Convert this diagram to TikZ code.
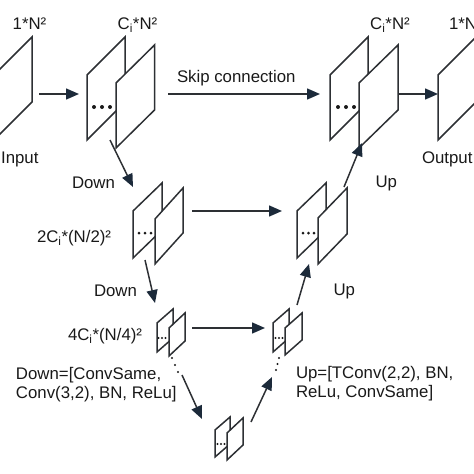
\documentclass[tikz,border=0pt]{standalone}
\usepackage{fontspec}
\setmainfont{Liberation Sans}
\usetikzlibrary{arrows.meta}
\definecolor{edgecol}{RGB}{45,48,52}
\definecolor{tipcol}{RGB}{28,42,58}
\definecolor{txtcol}{RGB}{25,25,25}
\tikzset{
  fplane/.style={draw=edgecol, line width=1.5pt, fill=white, line join=miter},
  conn/.style={draw=edgecol, line width=1.5pt, -{Triangle[length=13pt,width=11pt,color=tipcol]}},
  lbl/.style={inner sep=0pt, outer sep=0pt, text=txtcol, font=\fontsize{16.8}{19.5}\selectfont},
  dotmark/.style={fill=txtcol},
}
% x, y of top-left corner, width, slant, height
\newcommand\fmap[5]{\draw[fplane] (#1,#2) -- ++(#3,-#4) -- ++(0,#5) -- ++(-#3,#4) -- cycle;}
\newcommand\threedots[5]{% x1 x2 x3 y r
  \fill[dotmark] (#1,#4) circle[radius=#5pt] (#2,#4) circle[radius=#5pt] (#3,#4) circle[radius=#5pt];}
\begin{document}
\begin{tikzpicture}[x=1pt,y=-1pt]
\useasboundingbox (0,0) rectangle (474,474);
\clip (0,0) rectangle (474,474);

% ---- feature maps ----
% input and output
\fmap{-6}{75}{38}{38}{65}
\fmap{438}{75}{38}{38}{65}
% level 0 encoder
\fmap{87}{75}{38}{38}{65}
\threedots{94}{102}{110}{107}{2}
\fmap{116}{83}{38.5}{38}{65}
% level 0 decoder
\fmap{330}{75}{38}{38}{65}
\threedots{338}{346}{354}{107}{2}
\fmap{359}{83}{39}{38}{65}
% level 1 encoder
\fmap{133}{211}{29}{28}{47}
\threedots{139}{145}{151}{233}{1.5}
\fmap{155}{219}{28}{31}{45}
% level 1 decoder
\fmap{297}{211}{29}{28}{47}
\threedots{303}{308.5}{314}{233}{1.5}
\fmap{318}{218}{29}{30}{46}
% level 2 encoder
\fmap{157}{323}{16}{14}{29}
\threedots{158.5}{162}{165.5}{338}{1.1}
\fmap{169}{328}{16}{15}{28}
% level 2 decoder
\fmap{273}{323}{16}{14}{29}
\threedots{275.5}{279}{282.5}{338}{1.1}
\fmap{285}{328}{17}{15}{27}
% level 3 bottom
\fmap{215}{430}{15}{13}{27}
\threedots{217.5}{221}{224.5}{444}{1.1}
\fmap{227}{433}{16}{15}{27}

% ellipsis dots between levels
\fill[dotmark] (172,358) circle[radius=1.2pt] (175,365) circle[radius=1.2pt] (178,372) circle[radius=1.2pt];
\fill[dotmark] (279,358) circle[radius=1.2pt] (277.5,364) circle[radius=1.2pt] (276,370) circle[radius=1.2pt];

% ---- connector end points ----
\coordinate (inS) at (39,94);   \coordinate (inE) at (79,94);
\coordinate (skS) at (168,94);  \coordinate (skE) at (320,94);
\coordinate (ouS) at (399,94);  \coordinate (ouE) at (438,94);
\coordinate (d0S) at (110,140); \coordinate (d0E) at (133,187);
\coordinate (d1S) at (145,260); \coordinate (d1E) at (155,303);
\coordinate (s1S) at (192,211); \coordinate (s1E) at (282,211);
\coordinate (s2S) at (192,328); \coordinate (s2E) at (265,328);
\coordinate (d2S) at (182,375); \coordinate (d2E) at (202,419);
\coordinate (u3S) at (251,422); \coordinate (u3E) at (272,377);
\coordinate (u2S) at (297,305); \coordinate (u2E) at (309,264);
\coordinate (u1S) at (344,187); \coordinate (u1E) at (362,143);

\draw[conn] (inS) -- (inE);
\draw[conn] (skS) -- (skE);
\draw[conn] (ouS) -- (ouE);
\draw[conn] (d0S) -- (d0E);
\draw[conn] (d1S) -- (d1E);
\draw[conn] (s1S) -- (s1E);
\draw[conn] (s2S) -- (s2E);
\draw[conn] (d2S) -- (d2E);
\draw[conn] (u3S) -- (u3E);
\draw[conn] (u2S) -- (u2E);
\draw[conn] (u1S) -- (u1E);

% ---- labels ----
\node[lbl, anchor=base] (tIn) at (29.5,29.5) {1*N²};
\node[lbl, anchor=base] (tC0) at (137.5,29.5) {C\textsubscript{i}*N²};
\node[lbl, anchor=base] (tC1) at (390,29.5) {C\textsubscript{i}*N²};
\node[lbl, anchor=base west] (tOut) at (449,29.5) {1*N²};
\node[lbl, anchor=base west] (tSkip) at (177,82) {Skip connection};
\node[lbl, anchor=base east] (tInput) at (38.5,163.5) {Input};
\node[lbl, anchor=base west] (tOutput) at (422,163.5) {Output};
\node[lbl, anchor=base west] (tDown0) at (72,188.5) {Down};
\node[lbl, anchor=base west] (tL1) at (37,242.5) {2C\textsubscript{i}*(N/2)²};
\node[lbl, anchor=base west] (tUp1) at (375.5,187.5) {Up};
\node[lbl, anchor=base west] (tDown1) at (94,296) {Down};
\node[lbl, anchor=base west] (tUp2) at (333.5,295.5) {Up};
\node[lbl, anchor=base west] (tL2) at (68,340.5) {4C\textsubscript{i}*(N/4)²};
\node[lbl, anchor=base west, align=left] (tDownDef) at (16,398.5) {Down=[ConvSame,\\Conv(3,2), BN, ReLu]};
\node[lbl, anchor=base west, align=left] (tUpDef) at (296,397.5) {Up=[TConv(2,2), BN,\\ReLu, ConvSame]};
\end{tikzpicture}
\end{document}
